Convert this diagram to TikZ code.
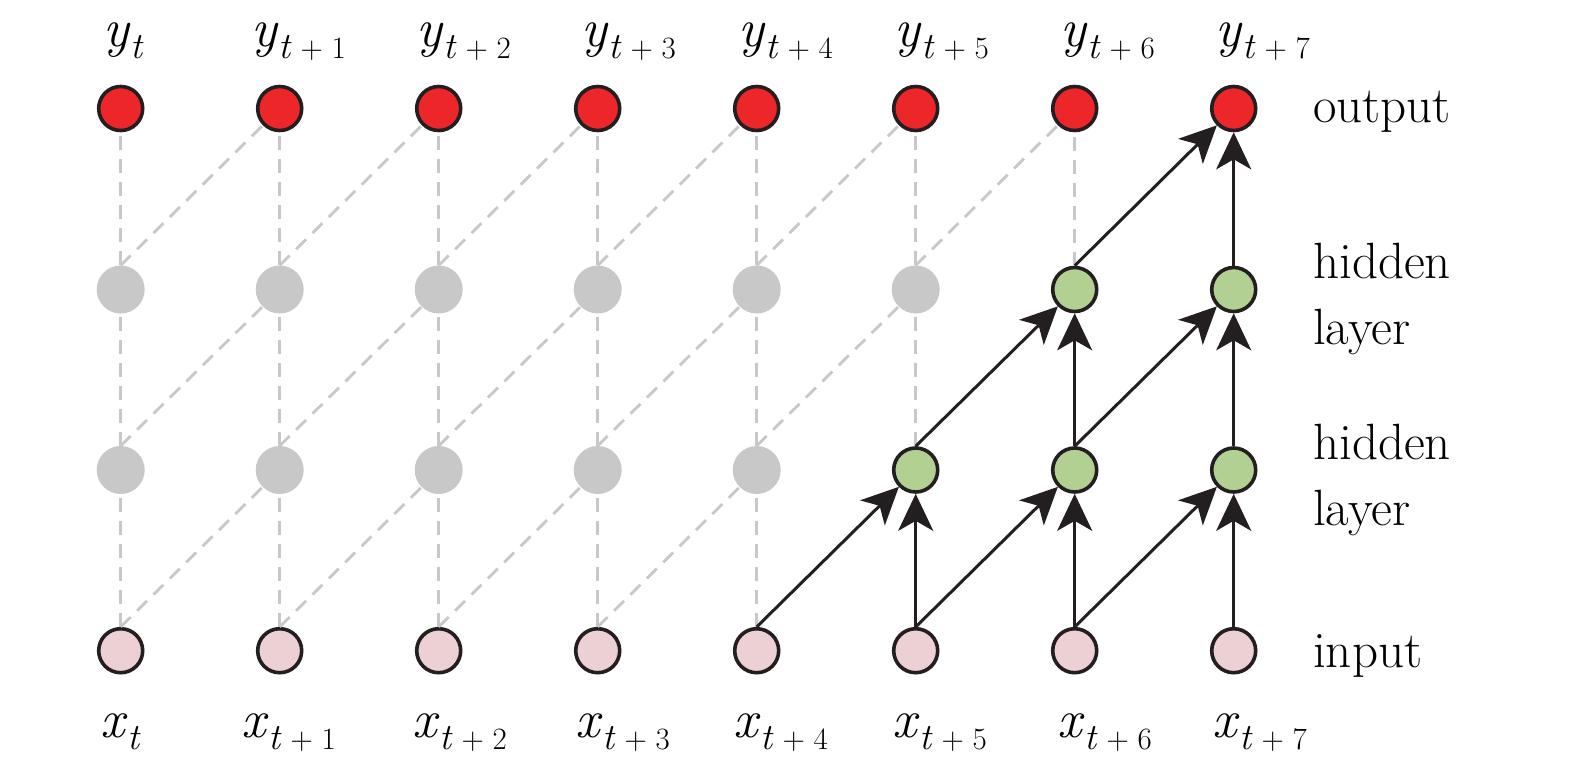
\documentclass[tikz,border=0pt]{standalone}
\usetikzlibrary{arrows.meta}
\definecolor{outred}{RGB}{237,38,41}
\definecolor{hidgreen}{RGB}{178,208,145}
\definecolor{inpink}{RGB}{236,208,212}
\definecolor{ghost}{RGB}{200,200,200}
\definecolor{ink}{RGB}{35,31,32}
\newcommand\seqlab[2]{\textit{#1}\raisebox{-12pt}{\fontsize{37}{37}\selectfont\textit{t}\ifx\relax#2\relax\else\fontsize{31}{31}\selectfont\;+\;#2\fi}}
\begin{document}
\begin{tikzpicture}[x=1pt,y=-1pt,
  nd/.style={circle,inner sep=0pt,minimum size=44pt,line width=3.6pt,draw=ink},
  outnode/.style={nd,fill=outred},
  grnnode/.style={nd,fill=hidgreen},
  pnknode/.style={nd,fill=inpink},
  gstnode/.style={circle,inner sep=0pt,minimum size=48pt,fill=ghost},
  dashline/.style={draw=ghost,line width=2.8pt,dash pattern=on 14pt off 9pt},
  arrowline/.style={draw=ink,line width=3pt,-{Stealth[length=37pt,width=35pt,inset=10pt]}},
  lbl/.style={font=\fontsize{51}{58}\selectfont,inner sep=0pt,anchor=base west},
  seq/.style={font=\fontsize{54}{58}\selectfont,inner sep=0pt,anchor=base west}]
\useasboundingbox (0,0) rectangle (1575,764);
% nodes
\foreach \i in {0,...,7}{
  \pgfmathsetmacro\cx{120.7+159*\i}
  \node[outnode] (o\i) at (\cx,108.5) {};
  \node[pnknode] (n\i) at (\cx,650.7) {};
}
\foreach \i in {0,...,5}{\node[gstnode] (b\i) at (120.7+159*\i,289.5) {};}
\foreach \i in {6,7}{\node[grnnode] (b\i) at (120.7+159*\i,289.5) {};}
\foreach \i in {0,...,4}{\node[gstnode] (a\i) at (120.7+159*\i,470) {};}
\foreach \i in {5,6,7}{\node[grnnode] (a\i) at (120.7+159*\i,470) {};}
% dashed connectors
\foreach \i in {0,...,4}{\draw[dashline] (n\i.north) -- (a\i.south);}
\foreach \i in {0,...,5}{\draw[dashline] (a\i.north) -- (b\i.south);}
\foreach \i in {0,...,6}{\draw[dashline] (b\i.north) -- (o\i.south);}
\foreach \i/\j in {0/1,1/2,2/3,3/4}{\draw[dashline] (n\i.north) -- (a\j.south west);}
\foreach \i/\j in {0/1,1/2,2/3,3/4,4/5}{\draw[dashline] (a\i.north) -- (b\j.south west);}
\foreach \i/\j in {0/1,1/2,2/3,3/4,4/5,5/6}{\draw[dashline] (b\i.north) -- (o\j.south west);}
% solid arrows
\foreach \i/\j in {4/5,5/6,6/7}{\draw[arrowline] (n\i.north) -- (a\j.south west);}
\foreach \i/\j in {5/6,6/7}{\draw[arrowline] (a\i.north) -- (b\j.south west);}
\draw[arrowline] (b6.north) -- (o7.south west);
\foreach \i in {5,6,7}{\draw[arrowline] (n\i.north) -- (a\i.south);}
\foreach \i in {6,7}{\draw[arrowline] (a\i.north) -- (b\i.south);}
\draw[arrowline] (b7.north) -- (o7.south);
% sequence labels
\foreach \k/\yl/\xl in {0/103.5/100.5,1/251/241,2/416/412,3/581/575,4/738/733,5/894/892,6/1060/1057,7/1215/1212}{
  \ifnum\k=0
    \node[seq] (ylab\k) at (\yl,46) {\seqlab{y}{}};
    \node[seq] (xlab\k) at (\xl,737) {\seqlab{x}{}};
  \else
    \node[seq] (ylab\k) at (\yl,46) {\seqlab{y}{\k}};
    \node[seq] (xlab\k) at (\xl,737) {\seqlab{x}{\k}};
  \fi
}
% layer labels
\node[lbl] (lout) at (1313,122) {output};
\node[lbl] (lh2a) at (1313,278.5) {hidden};
\node[lbl] (lh2b) at (1313,344.5) {layer};
\node[lbl] (lh1a) at (1313,459) {hidden};
\node[lbl] (lh1b) at (1313,525) {layer};
\node[lbl] (lin) at (1313,667) {input};
\end{tikzpicture}
\end{document}
